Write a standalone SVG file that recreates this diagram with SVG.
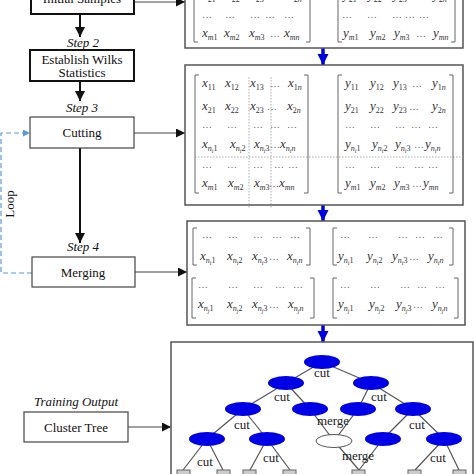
<svg xmlns="http://www.w3.org/2000/svg" width="474" height="474" viewBox="0 0 474 474">
<style>
.bg{fill:#fff}
.lbl{font-family:"Liberation Serif",serif;font-size:13px;fill:#111;text-anchor:middle}
.step{font-family:"Liberation Serif",serif;font-size:13px;font-style:italic;fill:#111;text-anchor:middle}
.box{fill:#fff;stroke:#444;stroke-width:1.2}
.tbox{fill:#fff;stroke:#111;stroke-width:2}
.mbox{fill:#fff;stroke:#555;stroke-width:1.5}
.conn{stroke:#111;stroke-width:2;fill:none}
.hconn{stroke:#444;stroke-width:1.2;fill:none}
.blue{stroke:#0000dc;stroke-width:3.5;fill:none}
.loop{stroke:#5b9bd5;stroke-width:1.2;stroke-dasharray:5 3;fill:none}
.brk{stroke:#666;stroke-width:1;fill:none}
.dot{stroke:#999;stroke-width:0.8;stroke-dasharray:1.5 1.5;fill:none}
.mx{font-family:"Liberation Serif",serif;font-size:13px;font-style:italic;fill:#333}
.sb{font-size:8px;font-style:normal}
.si{font-style:italic}
.ss{font-size:6px;font-style:italic}
.dt{font-family:"Liberation Serif",serif;font-size:10px;fill:#666;font-style:normal}
.edge{stroke:#555;stroke-width:1.2}
.bn{fill:#0000e6}
.wn{fill:#fff;stroke:#555;stroke-width:1}
.leaf{fill:#ccc;stroke:#666;stroke-width:1}
.tl{font-family:"Liberation Serif",serif;font-size:13px;fill:#222;text-anchor:middle}
</style>
<defs>
<marker id="ab" viewBox="0 0 10 10" refX="10" refY="5" markerWidth="9" markerHeight="9" markerUnits="userSpaceOnUse" orient="auto"><path d="M0,0 L10,5 L0,10 z" fill="#111"/></marker>
<marker id="abv" viewBox="0 0 10 10" refX="10" refY="5" markerWidth="10" markerHeight="10" markerUnits="userSpaceOnUse" orient="auto"><path d="M0,0 L10,5 L0,10 z" fill="#111"/></marker>
<marker id="abl" viewBox="0 0 10 10" refX="10" refY="5" markerWidth="11" markerHeight="12" markerUnits="userSpaceOnUse" orient="auto"><path d="M0,0 L10,5 L0,10 z" fill="#0000dc"/></marker>
<marker id="alp" viewBox="0 0 10 10" refX="10" refY="5" markerWidth="7" markerHeight="7" markerUnits="userSpaceOnUse" orient="auto"><path d="M0,0 L10,5 L0,10 z" fill="#5b9bd5"/></marker>
</defs>
<rect class="bg" x="0" y="0" width="474" height="474"/>

<g id="connectors">
<line class="conn" x1="80" y1="14" x2="80" y2="37" marker-end="url(#abv)"/>
<line class="conn" x1="80" y1="81" x2="80" y2="101" marker-end="url(#abv)"/>
<line class="conn" x1="80" y1="148" x2="80" y2="243" marker-end="url(#abv)"/>
<line class="hconn" x1="134" y1="2" x2="185" y2="2" marker-end="url(#ab)"/>
<line class="hconn" x1="134" y1="133" x2="185" y2="133" marker-end="url(#ab)"/>
<line class="hconn" x1="135" y1="272" x2="187" y2="272" marker-end="url(#ab)"/>
<line class="hconn" x1="128" y1="427" x2="171" y2="427" marker-end="url(#ab)"/>
<line class="blue" x1="323" y1="48" x2="323" y2="65" marker-end="url(#abl)"/>
<line class="blue" x1="323" y1="205" x2="323" y2="221" marker-end="url(#abl)"/>
<line class="blue" x1="323" y1="325" x2="323" y2="342" marker-end="url(#abl)"/>
<path class="loop" d="M32,273 H1 V133 H30" marker-end="url(#alp)"/>
</g>
<text id="loop-label" x="0" y="0" transform="translate(14,204) rotate(-90)" class="lbl">Loop</text>

<g id="initial-samples">
<rect class="tbox" x="31" y="-16" width="103" height="30"/>
<text class="lbl" x="82" y="3">Initial Samples</text>
</g>
<text class="step" x="83" y="47">Step 2</text>
<g id="wilks">
<rect class="tbox" x="30" y="50" width="104" height="31"/>
<text class="lbl" x="82" y="64">Establish Wilks</text>
<text class="lbl" x="82" y="77">Statistics</text>
</g>
<text class="step" x="82" y="112">Step 3</text>
<g id="cutting">
<rect class="box" x="30" y="117" width="104" height="31"/>
<text class="lbl" x="82" y="137">Cutting</text>
</g>
<text class="step" x="83" y="251">Step 4</text>
<g id="merging">
<rect class="box" x="32" y="257" width="103" height="30"/>
<text class="lbl" x="83" y="277">Merging</text>
</g>
<text class="step" x="76" y="406">Training Output</text>
<g id="cluster-tree">
<rect class="box" x="24" y="412" width="104" height="30"/>
<text class="lbl" x="76" y="432">Cluster Tree</text>
</g>

<g id="matrix-box-1">
<rect class="mbox" x="185" y="-10" width="278" height="58"/>
<path class="brk" d="M198,-10 H194 V42 H198 M306,-10 H310 V42 H306"/>
<path class="brk" d="M342,-10 H338 V42 H342 M451,-10 H455 V42 H451"/>
<g class="mx">
<text x="202" y="-1">x<tspan class="sb" dy="3">21</tspan></text>
<text x="226" y="-1">x<tspan class="sb" dy="3">22</tspan></text>
<text x="250" y="-1">x<tspan class="sb" dy="3">23</tspan></text>
<text x="288" y="-1">x<tspan class="sb" dy="3">2<tspan class="si">n</tspan></tspan></text>
<text class="dt" x="202" y="18">…</text><text class="dt" x="225" y="18">…</text><text class="dt" x="250" y="18">…</text><text class="dt" x="265" y="18">…</text><text class="dt" x="284" y="18">…</text>
<text x="202" y="37">x<tspan class="sb" dy="3"><tspan class="si">m</tspan>1</tspan></text>
<text x="224" y="37">x<tspan class="sb" dy="3"><tspan class="si">m</tspan>2</tspan></text>
<text x="249" y="37">x<tspan class="sb" dy="3"><tspan class="si">m</tspan>3</tspan></text>
<text class="dt" x="270" y="37">…</text>
<text x="284" y="37">x<tspan class="sb si" dy="3">mn</tspan></text>
<text x="343" y="-1">y<tspan class="sb" dy="3">21</tspan></text>
<text x="368" y="-1">y<tspan class="sb" dy="3">22</tspan></text>
<text x="393" y="-1">y<tspan class="sb" dy="3">23</tspan></text>
<text x="433" y="-1">y<tspan class="sb" dy="3">2<tspan class="si">n</tspan></tspan></text>
<text class="dt" x="342" y="18">…</text><text class="dt" x="367" y="18">…</text><text class="dt" x="392" y="18">…</text><text class="dt" x="405" y="18">…</text><text class="dt" x="419" y="18">…</text>
<text x="343" y="37">y<tspan class="sb" dy="3"><tspan class="si">m</tspan>1</tspan></text>
<text x="370" y="37">y<tspan class="sb" dy="3"><tspan class="si">m</tspan>2</tspan></text>
<text x="394" y="37">y<tspan class="sb" dy="3"><tspan class="si">m</tspan>3</tspan></text>
<text class="dt" x="416" y="37">…</text>
<text x="433" y="37">y<tspan class="sb si" dy="3">mn</tspan></text>
</g>
</g>

<g id="matrix-box-2">
<rect class="mbox" x="185" y="65" width="278" height="140"/>
<path class="dot" d="M195,157 H463 M249,77 V208 M271,77 V208"/>
<path class="brk" d="M199,75 H195 V193 H199 M304,75 H308 V193 H304"/>
<path class="brk" d="M342,75 H338 V193 H342 M449,75 H453 V193 H449"/>
<g class="mx">
<text x="202" y="87">x<tspan class="sb" dy="3">11</tspan></text>
<text x="225" y="87">x<tspan class="sb" dy="3">12</tspan></text>
<text x="250" y="87">x<tspan class="sb" dy="3">13</tspan></text>
<text class="dt" x="270" y="87">…</text>
<text x="288" y="87">x<tspan class="sb" dy="3">1<tspan class="si">n</tspan></tspan></text>
<text x="202" y="110">x<tspan class="sb" dy="3">21</tspan></text>
<text x="225" y="110">x<tspan class="sb" dy="3">22</tspan></text>
<text x="250" y="110">x<tspan class="sb" dy="3">23</tspan></text>
<text class="dt" x="267" y="110">…</text>
<text x="287" y="110">x<tspan class="sb" dy="3">2<tspan class="si">n</tspan></tspan></text>
<text class="dt" x="202" y="128">…</text><text class="dt" x="227" y="128">…</text><text class="dt" x="253" y="128">…</text><text class="dt" x="270" y="128">…</text><text class="dt" x="287" y="128">…</text>
<text x="202" y="148">x<tspan class="sb si" dy="3">n</tspan><tspan class="ss" dy="2">i</tspan><tspan class="sb" dy="-2">1</tspan></text>
<text x="230" y="148">x<tspan class="sb si" dy="3">n</tspan><tspan class="ss" dy="2">i</tspan><tspan class="sb" dy="-2">2</tspan></text>
<text x="254" y="148">x<tspan class="sb si" dy="3">n</tspan><tspan class="ss" dy="2">i</tspan><tspan class="sb" dy="-2">3</tspan></text>
<text class="dt" x="270" y="148">…</text>
<text x="280" y="148">x<tspan class="sb si" dy="3">n</tspan><tspan class="ss" dy="2">i</tspan><tspan class="sb si" dy="-2">n</tspan></text>
<text class="dt" x="202" y="168">…</text><text class="dt" x="227" y="168">…</text><text class="dt" x="253" y="168">…</text><text class="dt" x="274" y="168">…</text><text class="dt" x="288" y="168">…</text>
<text x="202" y="187">x<tspan class="sb" dy="3"><tspan class="si">m</tspan>1</tspan></text>
<text x="228" y="187">x<tspan class="sb" dy="3"><tspan class="si">m</tspan>2</tspan></text>
<text x="254" y="187">x<tspan class="sb" dy="3"><tspan class="si">m</tspan>3</tspan></text>
<text class="dt" x="269" y="187">…</text>
<text x="279" y="187">x<tspan class="sb si" dy="3">mn</tspan></text>

<text x="345" y="87">y<tspan class="sb" dy="3">11</tspan></text>
<text x="370" y="87">y<tspan class="sb" dy="3">12</tspan></text>
<text x="393" y="87">y<tspan class="sb" dy="3">13</tspan></text>
<text class="dt" x="412" y="87">…</text>
<text x="432" y="87">y<tspan class="sb" dy="3">1<tspan class="si">n</tspan></tspan></text>
<text x="345" y="110">y<tspan class="sb" dy="3">21</tspan></text>
<text x="370" y="110">y<tspan class="sb" dy="3">22</tspan></text>
<text x="393" y="110">y<tspan class="sb" dy="3">23</tspan></text>
<text class="dt" x="409" y="110">…</text>
<text x="432" y="110">y<tspan class="sb" dy="3">2<tspan class="si">n</tspan></tspan></text>
<text class="dt" x="345" y="128">…</text><text class="dt" x="370" y="128">…</text><text class="dt" x="395" y="128">…</text><text class="dt" x="411" y="128">…</text><text class="dt" x="428" y="128">…</text>
<text x="345" y="148">y<tspan class="sb si" dy="3">n</tspan><tspan class="ss" dy="2">i</tspan><tspan class="sb" dy="-2">1</tspan></text>
<text x="372" y="148">y<tspan class="sb si" dy="3">n</tspan><tspan class="ss" dy="2">i</tspan><tspan class="sb" dy="-2">2</tspan></text>
<text x="395" y="148">y<tspan class="sb si" dy="3">n</tspan><tspan class="ss" dy="2">i</tspan><tspan class="sb" dy="-2">3</tspan></text>
<text class="dt" x="414" y="148">…</text>
<text x="425" y="148">y<tspan class="sb si" dy="3">n</tspan><tspan class="ss" dy="2">i</tspan><tspan class="sb si" dy="-2">n</tspan></text>
<text class="dt" x="345" y="168">…</text><text class="dt" x="370" y="168">…</text><text class="dt" x="395" y="168">…</text><text class="dt" x="414" y="168">…</text><text class="dt" x="428" y="168">…</text>
<text x="345" y="187">y<tspan class="sb" dy="3"><tspan class="si">m</tspan>1</tspan></text>
<text x="370" y="187">y<tspan class="sb" dy="3"><tspan class="si">m</tspan>2</tspan></text>
<text x="394" y="187">y<tspan class="sb" dy="3"><tspan class="si">m</tspan>3</tspan></text>
<text class="dt" x="412" y="187">…</text>
<text x="423" y="187">y<tspan class="sb si" dy="3">mn</tspan></text>
</g>
</g>

<g id="matrix-box-3">
<rect class="mbox" x="187" y="221" width="278" height="104"/>
<path class="brk" d="M197,228 H193 V265 H197 M306,228 H310 V265 H306"/>
<path class="brk" d="M337,228 H333 V265 H337 M449,228 H453 V265 H449"/>
<path class="brk" d="M196,278 H192 V318 H196 M310,278 H314 V318 H310"/>
<path class="brk" d="M337,278 H333 V318 H337 M454,278 H458 V318 H454"/>
<g class="mx">
<text class="dt" x="202" y="238">…</text><text class="dt" x="228" y="238">…</text><text class="dt" x="253" y="238">…</text><text class="dt" x="272" y="238">…</text><text class="dt" x="290" y="238">…</text>
<text x="200" y="260">x<tspan class="sb si" dy="3">n</tspan><tspan class="ss" dy="2">i</tspan><tspan class="sb" dy="-2">1</tspan></text>
<text x="227" y="260">x<tspan class="sb si" dy="3">n</tspan><tspan class="ss" dy="2">i</tspan><tspan class="sb" dy="-2">2</tspan></text>
<text x="252" y="260">x<tspan class="sb si" dy="3">n</tspan><tspan class="ss" dy="2">i</tspan><tspan class="sb" dy="-2">3</tspan></text>
<text class="dt" x="269" y="260">…</text>
<text x="287" y="260">x<tspan class="sb si" dy="3">n</tspan><tspan class="ss" dy="2">i</tspan><tspan class="sb si" dy="-2">n</tspan></text>

<text class="dt" x="340" y="238">…</text><text class="dt" x="368" y="238">…</text><text class="dt" x="398" y="238">…</text><text class="dt" x="415" y="238">…</text><text class="dt" x="433" y="238">…</text>
<text x="338" y="260">y<tspan class="sb si" dy="3">n</tspan><tspan class="ss" dy="2">i</tspan><tspan class="sb" dy="-2">1</tspan></text>
<text x="367" y="260">y<tspan class="sb si" dy="3">n</tspan><tspan class="ss" dy="2">i</tspan><tspan class="sb" dy="-2">2</tspan></text>
<text x="392" y="260">y<tspan class="sb si" dy="3">n</tspan><tspan class="ss" dy="2">i</tspan><tspan class="sb" dy="-2">3</tspan></text>
<text class="dt" x="409" y="260">…</text>
<text x="428" y="260">y<tspan class="sb si" dy="3">n</tspan><tspan class="ss" dy="2">i</tspan><tspan class="sb si" dy="-2">n</tspan></text>

<text class="dt" x="198" y="288">…</text><text class="dt" x="228" y="288">…</text><text class="dt" x="253" y="288">…</text><text class="dt" x="275" y="288">…</text><text class="dt" x="293" y="288">…</text>
<text x="198" y="308">x<tspan class="sb si" dy="3">n</tspan><tspan class="ss" dy="2">j</tspan><tspan class="sb" dy="-2">1</tspan></text>
<text x="227" y="308">x<tspan class="sb si" dy="3">n</tspan><tspan class="ss" dy="2">j</tspan><tspan class="sb" dy="-2">2</tspan></text>
<text x="252" y="308">x<tspan class="sb si" dy="3">n</tspan><tspan class="ss" dy="2">j</tspan><tspan class="sb" dy="-2">3</tspan></text>
<text class="dt" x="269" y="308">…</text>
<text x="288" y="308">x<tspan class="sb si" dy="3">n</tspan><tspan class="ss" dy="2">j</tspan><tspan class="sb si" dy="-2">n</tspan></text>

<text class="dt" x="340" y="288">…</text><text class="dt" x="370" y="288">…</text><text class="dt" x="400" y="288">…</text><text class="dt" x="417" y="288">…</text><text class="dt" x="435" y="288">…</text>
<text x="338" y="308">y<tspan class="sb si" dy="3">n</tspan><tspan class="ss" dy="2">j</tspan><tspan class="sb" dy="-2">1</tspan></text>
<text x="369" y="308">y<tspan class="sb si" dy="3">n</tspan><tspan class="ss" dy="2">j</tspan><tspan class="sb" dy="-2">2</tspan></text>
<text x="396" y="308">y<tspan class="sb si" dy="3">n</tspan><tspan class="ss" dy="2">j</tspan><tspan class="sb" dy="-2">3</tspan></text>
<text class="dt" x="413" y="308">…</text>
<text x="432" y="308">y<tspan class="sb si" dy="3">n</tspan><tspan class="ss" dy="2">j</tspan><tspan class="sb si" dy="-2">n</tspan></text>
</g>
</g>

<g id="tree-box">
<rect class="mbox" x="171" y="342" width="302" height="140"/>
</g>
<g id="tree-edges">
<line class="edge" x1="322" y1="362" x2="286" y2="383"/>
<line class="edge" x1="322" y1="362" x2="371" y2="383"/>
<line class="edge" x1="286" y1="383" x2="243" y2="409"/>
<line class="edge" x1="286" y1="383" x2="310" y2="409"/>
<line class="edge" x1="371" y1="383" x2="358" y2="409"/>
<line class="edge" x1="371" y1="383" x2="413" y2="409"/>
<line class="edge" x1="243" y1="409" x2="207" y2="439"/>
<line class="edge" x1="243" y1="409" x2="267" y2="439"/>
<line class="edge" x1="310" y1="409" x2="334" y2="441"/>
<line class="edge" x1="358" y1="409" x2="334" y2="441"/>
<line class="edge" x1="413" y1="409" x2="383" y2="439"/>
<line class="edge" x1="413" y1="409" x2="444" y2="439"/>
<line class="edge" x1="207" y1="439" x2="183" y2="470"/>
<line class="edge" x1="207" y1="439" x2="223" y2="470"/>
<line class="edge" x1="267" y1="439" x2="250" y2="470"/>
<line class="edge" x1="267" y1="439" x2="290" y2="470"/>
<line class="edge" x1="334" y1="441" x2="359" y2="470"/>
<line class="edge" x1="383" y1="439" x2="359" y2="470"/>
<line class="edge" x1="444" y1="439" x2="415" y2="470"/>
<line class="edge" x1="444" y1="439" x2="459" y2="470"/>
</g>
<g id="tree-nodes">
<ellipse class="bn" cx="322" cy="362" rx="18" ry="7"/>
<ellipse class="bn" cx="286" cy="383" rx="18" ry="7"/>
<ellipse class="bn" cx="371" cy="383" rx="18" ry="7"/>
<ellipse class="bn" cx="243" cy="409" rx="18" ry="7"/>
<ellipse class="bn" cx="310" cy="409" rx="18" ry="7"/>
<ellipse class="bn" cx="358" cy="409" rx="18" ry="7"/>
<ellipse class="bn" cx="413" cy="409" rx="18" ry="7"/>
<ellipse class="bn" cx="207" cy="439" rx="18" ry="7"/>
<ellipse class="bn" cx="267" cy="439" rx="18" ry="7"/>
<ellipse class="wn" cx="334" cy="441" rx="18" ry="6.5"/>
<ellipse class="bn" cx="383" cy="439" rx="18" ry="7"/>
<ellipse class="bn" cx="444" cy="439" rx="18" ry="7"/>
<rect class="leaf" x="177" y="470" width="13" height="12"/>
<rect class="leaf" x="217" y="470" width="13" height="12"/>
<rect class="leaf" x="243" y="470" width="13" height="12"/>
<rect class="leaf" x="283" y="470" width="13" height="12"/>
<rect class="leaf" x="352" y="470" width="13" height="12"/>
<rect class="leaf" x="408" y="470" width="13" height="12"/>
<rect class="leaf" x="453" y="470" width="13" height="12"/>
</g>
<g id="tree-labels">
<text class="tl" x="322" y="377">cut</text>
<text class="tl" x="282" y="401">cut</text>
<text class="tl" x="379" y="401">cut</text>
<text class="tl" x="242" y="429">cut</text>
<text class="tl" x="333" y="425">merge</text>
<text class="tl" x="417" y="429">cut</text>
<text class="tl" x="205" y="466">cut</text>
<text class="tl" x="271" y="462">cut</text>
<text class="tl" x="358" y="460">merge</text>
<text class="tl" x="438" y="462">cut</text>
</g>
</svg>
